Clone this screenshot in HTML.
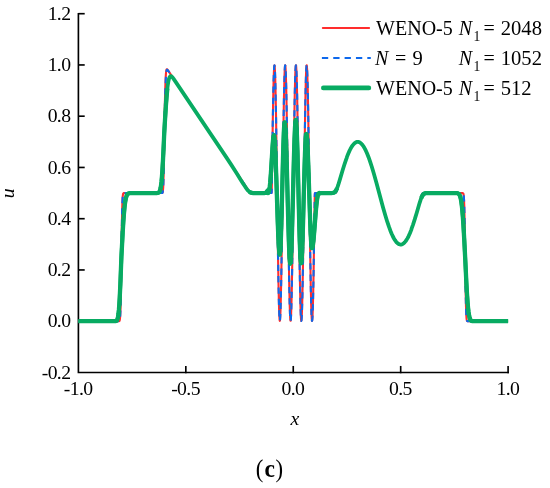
<!DOCTYPE html>
<html><head><meta charset="utf-8"><title>c</title>
<style>
html,body{margin:0;padding:0;background:#fff;}
svg{display:block;}
text{font-family:"Liberation Serif",serif;fill:#000;}
</style></head><body>
<svg width="550" height="488" viewBox="0 0 550 488">
<rect width="550" height="488" fill="#fff"/>
<g stroke="#000" stroke-width="1.65" fill="none" stroke-linecap="butt">
<path d="M78.4,12.875 V372.45 H508.925"/>
<path d="M78.4,13.70 H84.7"/>
<path d="M78.4,64.95 H84.7"/>
<path d="M78.4,116.20 H84.7"/>
<path d="M78.4,167.45 H84.7"/>
<path d="M78.4,218.70 H84.7"/>
<path d="M78.4,269.95 H84.7"/>
<path d="M78.4,321.20 H84.7"/>
<path d="M185.83,373.275 V365.95"/>
<path d="M293.25,373.275 V365.95"/>
<path d="M400.68,373.275 V365.95"/>
<path d="M508.10,373.275 V365.95"/>
</g>
<path d="M78.40,321.20 L84.69,321.20 L90.99,321.20 L97.28,321.20 L103.58,321.20 L109.87,321.20 L116.17,321.20 L118.89,321.18 L119.21,321.10 L119.42,320.94 L119.63,320.54 L119.84,319.67 L120.05,317.95 L120.26,314.84 L120.47,309.73 L120.78,297.12 L121.20,271.04 L121.83,226.53 L122.15,210.51 L122.36,203.36 L122.57,198.69 L122.78,195.90 L122.99,194.39 L123.20,193.63 L123.41,193.29 L123.62,193.15 L124.03,193.08 L130.33,193.07 L136.62,193.07 L142.92,193.07 L149.21,193.07 L155.51,193.07 L161.80,193.06 L162.12,193.01 L162.33,192.88 L162.54,192.57 L162.75,191.88 L162.96,190.47 L163.17,187.85 L163.37,183.41 L163.69,172.13 L164.00,154.62 L164.42,126.27 L164.95,100.33 L165.26,88.25 L165.58,79.56 L165.89,74.04 L166.10,71.79 L166.31,70.40 L166.52,69.64 L166.63,69.42 L166.73,69.30 L166.84,69.24 L167.05,69.27 L167.36,69.55 L168.20,70.71 L174.50,80.09 L180.79,89.47 L187.08,98.86 L193.38,108.24 L199.67,117.63 L205.97,127.01 L212.26,136.39 L218.56,145.78 L224.85,155.16 L231.14,164.55 L237.44,173.93 L243.73,183.32 L249.29,191.57 L249.92,192.35 L250.34,192.71 L250.76,192.93 L251.29,193.04 L253.39,193.07 L259.68,193.07 L265.97,193.07 L271.43,193.06 L271.53,192.93 L271.64,192.25 L271.74,189.94 L271.95,178.68 L272.79,120.80 L273.32,92.36 L273.63,79.68 L273.95,70.82 L274.16,67.20 L274.26,66.10 L274.37,65.48 L274.47,65.32 L274.58,65.67 L274.68,66.48 L274.89,69.54 L275.21,77.58 L275.52,89.54 L276.05,116.97 L276.78,166.62 L277.93,250.51 L278.46,282.30 L278.88,301.84 L279.19,312.27 L279.40,317.00 L279.61,319.87 L279.72,320.59 L279.82,320.83 L279.93,320.59 L280.03,319.87 L280.24,317.00 L280.56,309.22 L280.87,297.53 L281.29,276.52 L281.92,236.11 L283.39,130.11 L283.91,99.48 L284.33,81.16 L284.65,71.77 L284.86,67.78 L284.96,66.48 L285.07,65.67 L285.17,65.32 L285.28,65.48 L285.38,66.10 L285.59,68.78 L285.91,76.28 L286.22,87.73 L286.64,108.45 L287.27,148.56 L288.74,254.68 L289.26,285.60 L289.68,304.24 L290.00,313.88 L290.21,318.06 L290.31,319.44 L290.42,320.36 L290.52,320.79 L290.63,320.75 L290.73,320.21 L290.84,319.21 L291.05,315.77 L291.36,307.19 L291.78,289.81 L292.31,260.10 L293.25,193.08 L294.19,126.05 L294.72,96.34 L295.14,78.96 L295.45,70.38 L295.66,66.94 L295.77,65.94 L295.87,65.40 L295.98,65.36 L296.08,65.79 L296.19,66.71 L296.40,69.95 L296.71,78.27 L297.13,95.32 L297.66,124.73 L298.60,191.51 L299.54,258.75 L300.07,288.78 L300.49,306.47 L300.80,315.33 L301.01,318.95 L301.12,320.05 L301.22,320.67 L301.33,320.83 L301.43,320.48 L301.54,319.67 L301.75,316.61 L302.06,308.57 L302.38,296.61 L302.90,269.18 L303.64,219.53 L304.79,135.64 L305.31,103.85 L305.73,84.31 L306.05,73.88 L306.26,69.15 L306.47,66.28 L306.57,65.56 L306.68,65.32 L306.78,65.56 L306.89,66.28 L307.10,69.15 L307.41,76.93 L307.73,88.62 L308.15,109.63 L308.78,150.04 L310.24,256.04 L310.77,286.67 L311.19,304.99 L311.50,314.38 L311.71,318.37 L311.82,319.67 L311.92,320.48 L312.03,320.83 L312.13,320.67 L312.24,320.05 L312.45,317.37 L312.76,309.87 L313.08,298.42 L313.50,277.70 L314.13,237.59 L314.65,200.82 L314.76,196.21 L314.86,193.90 L314.97,193.22 L315.07,193.09 L321.37,193.07 L327.66,193.07 L333.95,193.07 L335.00,193.04 L335.42,192.92 L335.74,192.71 L336.05,192.33 L336.37,191.75 L336.79,190.66 L337.63,187.80 L340.88,175.98 L343.08,168.46 L344.97,162.52 L346.54,158.01 L348.01,154.21 L349.27,151.32 L350.42,148.97 L351.58,146.94 L352.63,145.38 L353.57,144.21 L354.41,143.37 L355.25,142.71 L355.98,142.29 L356.72,142.02 L357.45,141.90 L358.19,141.92 L358.92,142.09 L359.66,142.41 L360.50,142.95 L361.33,143.68 L362.28,144.73 L363.22,146.00 L364.27,147.68 L365.43,149.83 L366.69,152.53 L368.05,155.84 L369.52,159.82 L371.20,164.83 L373.19,171.33 L375.60,179.80 L381.90,203.14 L384.52,212.52 L386.62,219.52 L388.40,225.00 L389.97,229.38 L391.34,232.79 L392.60,235.59 L393.75,237.84 L394.80,239.61 L395.85,241.11 L396.79,242.21 L397.63,243.00 L398.47,243.60 L399.21,243.97 L399.94,244.19 L400.68,244.26 L401.41,244.19 L402.14,243.97 L402.88,243.60 L403.72,243.00 L404.56,242.21 L405.50,241.11 L406.55,239.61 L407.60,237.84 L408.75,235.59 L410.01,232.79 L411.38,229.38 L412.95,225.00 L414.73,219.52 L416.83,212.52 L419.56,202.75 L421.34,196.28 L421.87,194.74 L422.18,194.06 L422.50,193.59 L422.81,193.31 L423.13,193.17 L423.75,193.08 L430.05,193.07 L436.34,193.07 L442.64,193.07 L448.93,193.07 L455.23,193.07 L461.52,193.07 L462.68,193.10 L462.99,193.18 L463.20,193.36 L463.41,193.80 L463.62,194.73 L463.83,196.57 L464.04,199.85 L464.25,205.20 L464.56,218.22 L464.98,244.75 L465.61,289.01 L465.93,304.59 L466.14,311.47 L466.35,315.94 L466.56,318.57 L466.77,319.99 L466.98,320.69 L467.19,321.00 L467.40,321.13 L467.82,321.19 L474.11,321.20 L480.40,321.20 L486.70,321.20 L492.99,321.20 L499.29,321.20 L505.58,321.20 L508.10,321.20" fill="none" stroke="#ff2d2d" stroke-width="2.1" stroke-linejoin="round"/>
<path d="M78.40,321.20 L84.69,321.20 L90.99,321.20 L97.28,321.20 L103.58,321.20 L109.87,321.20 L116.17,321.20 L118.89,321.18 L119.21,321.10 L119.42,320.94 L119.63,320.54 L119.84,319.67 L120.05,317.95 L120.26,314.84 L120.47,309.73 L120.78,297.12 L121.20,271.04 L121.83,226.53 L122.15,210.51 L122.36,203.36 L122.57,198.69 L122.78,195.90 L122.99,194.39 L123.20,193.63 L123.41,193.29 L123.62,193.15 L124.03,193.08 L130.33,193.07 L136.62,193.07 L142.92,193.07 L149.21,193.07 L155.51,193.07 L161.80,193.06 L162.12,193.01 L162.33,192.88 L162.54,192.57 L162.75,191.88 L162.96,190.47 L163.17,187.85 L163.37,183.41 L163.69,172.13 L164.00,154.62 L164.42,126.75 L165.05,99.54 L165.47,86.03 L165.79,78.98 L166.10,74.34 L166.31,72.36 L166.52,71.05 L166.73,70.28 L166.94,69.88 L167.05,69.78 L167.15,69.75 L167.36,69.79 L167.68,70.05 L168.41,71.03 L174.70,80.40 L181.00,89.79 L187.29,99.17 L193.59,108.56 L199.88,117.94 L206.18,127.32 L212.47,136.71 L218.77,146.09 L225.06,155.48 L231.35,164.86 L237.65,174.24 L243.94,183.63 L249.29,191.57 L249.92,192.35 L250.34,192.71 L250.76,192.93 L251.29,193.04 L253.39,193.07 L259.68,193.07 L265.97,193.07 L271.43,193.06 L271.53,192.93 L271.64,192.25 L271.74,189.94 L271.95,178.68 L272.79,120.80 L273.32,92.36 L273.63,79.68 L273.95,70.82 L274.16,67.20 L274.26,66.10 L274.37,65.48 L274.47,65.32 L274.58,65.67 L274.68,66.48 L274.89,69.54 L275.21,77.58 L275.52,89.54 L276.05,116.97 L276.78,166.62 L277.93,250.51 L278.46,282.30 L278.88,301.84 L279.19,312.27 L279.40,317.00 L279.61,319.87 L279.72,320.59 L279.82,320.83 L279.93,320.59 L280.03,319.87 L280.24,317.00 L280.56,309.22 L280.87,297.53 L281.29,276.52 L281.92,236.11 L283.39,130.11 L283.91,99.48 L284.33,81.16 L284.65,71.77 L284.86,67.78 L284.96,66.48 L285.07,65.67 L285.17,65.32 L285.28,65.48 L285.38,66.10 L285.59,68.78 L285.91,76.28 L286.22,87.73 L286.64,108.45 L287.27,148.56 L288.74,254.68 L289.26,285.60 L289.68,304.24 L290.00,313.88 L290.21,318.06 L290.31,319.44 L290.42,320.36 L290.52,320.79 L290.63,320.75 L290.73,320.21 L290.84,319.21 L291.05,315.77 L291.36,307.19 L291.78,289.81 L292.31,260.10 L293.25,193.08 L294.19,126.05 L294.72,96.34 L295.14,78.96 L295.45,70.38 L295.66,66.94 L295.77,65.94 L295.87,65.40 L295.98,65.36 L296.08,65.79 L296.19,66.71 L296.40,69.95 L296.71,78.27 L297.13,95.32 L297.66,124.73 L298.60,191.51 L299.54,258.75 L300.07,288.78 L300.49,306.47 L300.80,315.33 L301.01,318.95 L301.12,320.05 L301.22,320.67 L301.33,320.83 L301.43,320.48 L301.54,319.67 L301.75,316.61 L302.06,308.57 L302.38,296.61 L302.90,269.18 L303.64,219.53 L304.79,135.64 L305.31,103.85 L305.73,84.31 L306.05,73.88 L306.26,69.15 L306.47,66.28 L306.57,65.56 L306.68,65.32 L306.78,65.56 L306.89,66.28 L307.10,69.15 L307.41,76.93 L307.73,88.62 L308.15,109.63 L308.78,150.04 L310.24,256.04 L310.77,286.67 L311.19,304.99 L311.50,314.38 L311.71,318.37 L311.82,319.67 L311.92,320.48 L312.03,320.83 L312.13,320.67 L312.24,320.05 L312.45,317.37 L312.76,309.87 L313.08,298.42 L313.50,277.70 L314.13,237.59 L314.65,200.82 L314.76,196.21 L314.86,193.90 L314.97,193.22 L315.07,193.09 L321.37,193.07 L327.66,193.07 L333.95,193.07 L335.00,193.04 L335.42,192.92 L335.74,192.71 L336.05,192.33 L336.37,191.75 L336.79,190.66 L337.63,187.80 L340.88,175.98 L343.08,168.46 L344.97,162.52 L346.54,158.01 L348.01,154.21 L349.27,151.32 L350.42,148.97 L351.58,146.94 L352.63,145.38 L353.57,144.21 L354.41,143.37 L355.25,142.71 L355.98,142.29 L356.72,142.02 L357.45,141.90 L358.19,141.92 L358.92,142.09 L359.66,142.41 L360.50,142.95 L361.33,143.68 L362.28,144.73 L363.22,146.00 L364.27,147.68 L365.43,149.83 L366.69,152.53 L368.05,155.84 L369.52,159.82 L371.20,164.83 L373.19,171.33 L375.60,179.80 L381.90,203.14 L384.52,212.52 L386.62,219.52 L388.40,225.00 L389.97,229.38 L391.34,232.79 L392.60,235.59 L393.75,237.84 L394.80,239.61 L395.85,241.11 L396.79,242.21 L397.63,243.00 L398.47,243.60 L399.21,243.97 L399.94,244.19 L400.68,244.26 L401.41,244.19 L402.14,243.97 L402.88,243.60 L403.72,243.00 L404.56,242.21 L405.50,241.11 L406.55,239.61 L407.60,237.84 L408.75,235.59 L410.01,232.79 L411.38,229.38 L412.95,225.00 L414.73,219.52 L416.83,212.52 L419.56,202.75 L421.34,196.28 L421.87,194.74 L422.18,194.06 L422.50,193.59 L422.81,193.31 L423.13,193.17 L423.75,193.08 L430.05,193.07 L436.34,193.07 L442.64,193.07 L448.93,193.07 L455.23,193.07 L461.52,193.07 L462.68,193.10 L462.99,193.18 L463.20,193.36 L463.41,193.80 L463.62,194.73 L463.83,196.57 L464.04,199.85 L464.25,205.20 L464.56,218.22 L464.98,244.75 L465.61,289.01 L465.93,304.59 L466.14,311.47 L466.35,315.94 L466.56,318.57 L466.77,319.99 L466.98,320.69 L467.19,321.00 L467.40,321.13 L467.82,321.19 L474.11,321.20 L480.40,321.20 L486.70,321.20 L492.99,321.20 L499.29,321.20 L505.58,321.20 L508.10,321.20" fill="none" stroke="#0d68ec" stroke-width="2.1" stroke-dasharray="6.3 5.05" stroke-linejoin="round"/>
<path d="M78.40,321.20 L90.99,321.20 L103.58,321.20 L114.70,321.18 L115.54,321.10 L115.96,320.99 L116.38,320.77 L116.59,320.60 L116.80,320.37 L117.01,320.07 L117.22,319.67 L117.43,319.16 L117.64,318.51 L117.85,317.68 L118.05,316.65 L118.47,313.87 L118.89,309.89 L119.31,304.49 L119.73,297.53 L120.36,284.19 L121.41,256.73 L122.67,232.78 L123.30,222.48 L123.93,213.89 L124.56,207.12 L124.98,203.59 L125.40,200.77 L125.82,198.58 L126.24,196.93 L126.66,195.71 L127.08,194.83 L127.50,194.22 L127.92,193.80 L128.34,193.53 L128.97,193.29 L129.80,193.15 L131.69,193.08 L144.28,193.07 L156.66,193.05 L157.71,192.95 L158.34,192.75 L158.76,192.50 L159.18,192.07 L159.39,191.76 L159.60,191.38 L159.81,190.91 L160.23,189.63 L160.65,187.76 L161.07,185.15 L161.49,181.63 L161.91,177.06 L162.33,171.38 L162.96,160.73 L163.79,143.26 L164.21,133.70 L164.84,122.53 L165.89,105.98 L166.52,97.55 L167.15,90.58 L167.78,85.14 L168.20,82.35 L168.62,80.18 L169.04,78.55 L169.46,77.41 L169.67,77.00 L169.88,76.68 L170.09,76.44 L170.30,76.28 L170.51,76.19 L170.72,76.15 L170.93,76.17 L171.35,76.34 L171.77,76.64 L172.40,77.28 L173.45,78.62 L176.17,82.59 L188.76,101.36 L201.35,120.13 L213.94,138.90 L226.53,157.67 L231.14,164.61 L236.18,172.56 L242.68,182.91 L245.41,187.07 L247.09,189.41 L248.14,190.67 L248.98,191.50 L249.61,192.00 L250.24,192.37 L251.08,192.72 L251.92,192.91 L253.18,193.04 L257.16,193.07 L264.30,193.05 L265.13,192.98 L265.76,192.82 L266.18,192.60 L266.60,192.23 L266.81,191.96 L267.02,191.63 L267.23,191.21 L267.44,190.69 L267.65,192.00 L267.86,193.07 L268.07,193.01 L268.28,192.87 L268.49,192.60 L268.70,192.18 L268.91,191.56 L269.12,190.73 L269.33,189.67 L269.75,186.76 L270.17,182.75 L270.80,174.73 L271.64,161.28 L272.48,147.46 L272.90,141.73 L273.11,139.42 L273.32,137.56 L273.53,136.23 L273.74,135.46 L273.95,135.32 L274.16,135.88 L274.37,137.18 L274.58,139.19 L274.79,141.90 L275.21,149.24 L275.63,158.85 L276.26,176.43 L277.72,221.63 L278.35,237.62 L278.77,245.73 L278.98,248.85 L279.19,251.31 L279.40,253.07 L279.61,254.10 L279.82,254.39 L280.03,253.67 L280.24,251.77 L280.45,248.73 L280.66,244.59 L281.08,233.37 L281.71,210.78 L282.97,159.02 L283.39,144.36 L283.81,132.88 L284.02,128.59 L284.23,125.39 L284.44,123.32 L284.65,122.44 L284.86,122.68 L285.07,123.90 L285.28,126.07 L285.49,129.17 L285.91,137.95 L286.33,149.76 L286.96,171.69 L288.21,220.41 L288.84,241.19 L289.26,251.88 L289.47,256.04 L289.68,259.33 L289.89,261.71 L290.10,263.14 L290.31,263.59 L290.52,263.05 L290.73,261.48 L290.94,258.91 L291.15,255.38 L291.57,245.64 L291.99,232.82 L292.83,201.00 L293.88,159.20 L294.51,138.74 L294.93,128.74 L295.14,125.06 L295.35,122.34 L295.56,120.61 L295.77,119.91 L295.98,120.26 L296.19,121.72 L296.40,124.26 L296.61,127.85 L297.03,137.93 L297.45,151.33 L298.29,184.62 L299.33,227.60 L299.75,241.79 L300.17,252.87 L300.38,257.03 L300.59,260.16 L300.80,262.23 L301.01,263.21 L301.22,263.09 L301.43,261.92 L301.64,259.74 L301.85,256.58 L302.06,252.50 L302.48,241.80 L303.11,220.86 L304.37,172.89 L305.00,152.72 L305.42,142.78 L305.63,139.12 L305.84,136.41 L306.05,134.70 L306.26,134.02 L306.47,134.28 L306.68,135.29 L306.89,137.05 L307.10,139.53 L307.52,146.49 L307.94,155.82 L308.57,173.13 L310.04,217.83 L310.66,233.36 L311.08,241.01 L311.29,243.87 L311.50,246.03 L311.71,247.46 L311.92,248.14 L312.13,248.13 L312.34,247.74 L312.55,247.02 L312.76,245.97 L313.18,243.00 L313.60,239.03 L314.23,231.73 L315.70,212.93 L316.33,205.94 L316.96,200.36 L317.38,197.55 L317.80,195.47 L318.01,194.71 L318.22,194.10 L318.43,193.66 L318.64,193.35 L318.85,193.17 L319.06,193.09 L319.27,193.69 L319.69,193.42 L320.32,193.21 L321.16,193.11 L325.56,193.07 L331.44,193.05 L332.70,192.94 L333.53,192.74 L334.16,192.45 L334.79,191.99 L335.42,191.30 L336.05,190.35 L336.68,189.12 L337.31,187.61 L338.15,185.24 L339.41,181.17 L342.77,169.73 L344.65,163.76 L346.33,158.92 L346.75,157.79 L346.96,156.88 L348.22,153.70 L349.48,150.86 L350.53,148.77 L351.58,146.93 L352.63,145.37 L353.47,144.32 L354.31,143.45 L355.15,142.78 L355.77,142.39 L356.40,142.11 L357.03,141.94 L357.66,141.88 L358.29,141.93 L358.92,142.08 L359.55,142.35 L360.18,142.72 L361.02,143.38 L361.86,144.23 L362.70,145.26 L363.75,146.80 L364.80,148.61 L365.85,150.68 L367.10,153.50 L368.57,157.21 L370.04,161.33 L371.72,166.49 L373.82,173.48 L376.55,183.24 L383.05,207.42 L385.36,215.52 L387.25,221.69 L388.93,226.71 L390.39,230.70 L391.65,233.77 L392.91,236.50 L393.96,238.49 L395.01,240.22 L396.06,241.67 L396.90,242.62 L397.74,243.39 L398.58,243.97 L399.21,244.28 L399.84,244.48 L400.47,244.57 L401.09,244.55 L401.72,244.42 L402.35,244.19 L402.98,243.84 L403.82,243.22 L404.66,242.40 L405.50,241.40 L406.55,239.90 L407.60,238.12 L408.65,236.07 L409.91,233.28 L411.17,230.16 L411.38,229.60 L411.59,228.68 L413.05,224.57 L414.73,219.42 L416.83,212.45 L419.56,203.08 L420.61,199.84 L421.45,197.63 L422.08,196.28 L422.50,195.52 L423.13,194.64 L423.75,194.02 L424.38,193.61 L425.01,193.36 L425.85,193.18 L427.32,193.09 L439.91,193.07 L452.50,193.08 L456.28,193.11 L457.32,193.23 L457.95,193.41 L458.37,193.62 L458.79,193.95 L459.21,194.44 L459.63,195.15 L460.05,196.15 L460.47,197.53 L460.89,199.38 L461.31,201.81 L461.73,204.90 L462.15,208.74 L462.78,215.99 L463.41,225.06 L464.25,239.60 L465.30,260.36 L466.35,282.35 L466.98,293.55 L467.61,302.61 L468.03,307.39 L468.45,311.22 L468.86,314.18 L469.28,316.40 L469.70,318.01 L470.12,319.14 L470.54,319.91 L470.96,320.41 L471.38,320.74 L471.80,320.93 L472.43,321.09 L473.48,321.18 L486.07,321.20 L498.66,321.20 L508.10,321.20" fill="none" stroke="#08ab62" stroke-width="3.8" stroke-linejoin="round"/>
<path d="M78.40,321.20 L90.99,321.20 L103.58,321.20 L114.70,321.18 L115.54,321.10 L115.96,320.99 L116.38,320.77 L116.59,320.60 L116.80,320.37 L117.01,320.07 L117.22,319.67 L117.43,319.16 L117.64,318.51 L117.85,317.68 L118.05,316.65 L118.47,313.87 L118.89,309.89 L119.31,304.49 L119.73,297.53 L120.36,284.19 L121.41,256.73 L122.67,232.78 L123.30,222.48 L123.93,213.89 L124.56,207.12 L124.98,203.59 L125.40,200.77 L125.82,198.58 L126.24,196.93 L126.66,195.71 L127.08,194.83 L127.50,194.22 L127.92,193.80 L128.34,193.53 L128.97,193.29 L129.80,193.15 L131.69,193.08 L144.28,193.07 L156.66,193.05 L157.71,192.95 L158.34,192.75 L158.76,192.50 L159.18,192.07 L159.39,191.76 L159.60,191.38 L159.81,190.91 L160.23,189.63 L160.65,187.76 L161.07,185.15 L161.49,181.63 L161.91,177.06 L162.33,171.38 L162.96,160.73 L163.79,143.26 L164.21,133.70 L164.84,122.53 L165.89,105.98 L166.52,97.55 L167.15,90.58 L167.36,88.59" fill="none" stroke="#08ab62" stroke-width="4.3" stroke-linejoin="round"/>
<path d="M249.40,191.84 L250.03,192.26 L250.66,192.57 L251.50,192.83 L252.55,192.99 L254.43,193.07 L264.30,193.05 L265.13,192.98 L265.76,192.82 L266.18,192.60 L266.60,192.23 L266.81,191.96 L267.02,191.63 L267.23,191.21 L267.44,190.69 L267.65,192.00 L267.86,193.07 L268.07,193.01 L268.28,192.87 L268.49,192.60 L268.70,192.18 L268.91,191.56 L269.12,190.73 L269.33,189.67 L269.75,186.76 L270.17,182.75 L270.80,174.73 L271.64,161.28 L272.48,147.46 L272.90,141.73 L273.11,139.42 L273.32,137.56 L273.53,136.23 L273.74,135.46 L273.95,135.32 L274.16,135.88 L274.37,137.18 L274.58,139.19 L274.79,141.90 L275.21,149.24 L275.63,158.85 L276.26,176.43 L277.72,221.63 L278.35,237.62 L278.77,245.73 L278.98,248.85 L279.19,251.31 L279.40,253.07 L279.61,254.10 L279.82,254.39 L280.03,253.67 L280.24,251.77 L280.45,248.73 L280.66,244.59 L281.08,233.37 L281.71,210.78 L282.97,159.02 L283.39,144.36 L283.81,132.88 L284.02,128.59 L284.23,125.39 L284.44,123.32 L284.65,122.44 L284.86,122.68 L285.07,123.90 L285.28,126.07 L285.49,129.17 L285.91,137.95 L286.33,149.76 L286.96,171.69 L288.21,220.41 L288.84,241.19 L289.26,251.88 L289.47,256.04 L289.68,259.33 L289.89,261.71 L290.10,263.14 L290.31,263.59 L290.52,263.05 L290.73,261.48 L290.94,258.91 L291.15,255.38 L291.57,245.64 L291.99,232.82 L292.83,201.00 L293.88,159.20 L294.51,138.74 L294.93,128.74 L295.14,125.06 L295.35,122.34 L295.56,120.61 L295.77,119.91 L295.98,120.26 L296.19,121.72 L296.40,124.26 L296.61,127.85 L297.03,137.93 L297.45,151.33 L298.29,184.62 L299.33,227.60 L299.75,241.79 L300.17,252.87 L300.38,257.03 L300.59,260.16 L300.80,262.23 L301.01,263.21 L301.22,263.09 L301.43,261.92 L301.64,259.74 L301.85,256.58 L302.06,252.50 L302.48,241.80 L303.11,220.86 L304.37,172.89 L305.00,152.72 L305.42,142.78 L305.63,139.12 L305.84,136.41 L306.05,134.70 L306.26,134.02 L306.47,134.28 L306.68,135.29 L306.89,137.05 L307.10,139.53 L307.52,146.49 L307.94,155.82 L308.57,173.13 L310.04,217.83 L310.66,233.36 L311.08,241.01 L311.29,243.87 L311.50,246.03 L311.71,247.46 L311.92,248.14 L312.13,248.13 L312.34,247.74 L312.55,247.02 L312.76,245.97 L313.18,243.00 L313.60,239.03 L314.23,231.73 L315.70,212.93 L316.33,205.94 L316.96,200.36 L317.38,197.55 L317.80,195.47 L318.01,194.71 L318.22,194.10 L318.43,193.66 L318.64,193.35 L318.85,193.17 L319.06,193.09 L319.27,193.69 L319.69,193.42 L320.32,193.21 L321.16,193.11 L325.56,193.07 L331.44,193.05 L332.70,192.94 L333.53,192.74 L334.16,192.45 L334.79,191.99 L335.42,191.30 L336.05,190.35 L336.68,189.12 L337.10,188.14" fill="none" stroke="#08ab62" stroke-width="4.3" stroke-linejoin="round"/>
<path d="M421.24,198.14 L421.87,196.70 L422.50,195.52 L423.13,194.64 L423.75,194.02 L424.38,193.61 L425.01,193.36 L425.85,193.18 L427.32,193.09 L439.91,193.07 L452.50,193.08 L456.28,193.11 L457.32,193.23 L457.95,193.41 L458.37,193.62 L458.79,193.95 L459.21,194.44 L459.63,195.15 L460.05,196.15 L460.47,197.53 L460.89,199.38 L461.31,201.81 L461.73,204.90 L462.15,208.74 L462.78,215.99 L463.41,225.06 L464.25,239.60 L465.30,260.36 L466.35,282.35 L466.98,293.55 L467.61,302.61 L468.03,307.39 L468.45,311.22 L468.86,314.18 L469.28,316.40 L469.70,318.01 L470.12,319.14 L470.54,319.91 L470.96,320.41 L471.38,320.74 L471.80,320.93 L472.43,321.09 L473.48,321.18 L486.07,321.20 L498.66,321.20 L508.10,321.20" fill="none" stroke="#08ab62" stroke-width="4.3" stroke-linejoin="round"/>
<g font-size="19.7" letter-spacing="-0.6">
<text x="70.45" y="19.75" text-anchor="end">1.2</text>
<text x="70.45" y="71.00" text-anchor="end">1.0</text>
<text x="70.45" y="122.25" text-anchor="end">0.8</text>
<text x="70.45" y="173.50" text-anchor="end">0.6</text>
<text x="70.45" y="224.75" text-anchor="end">0.4</text>
<text x="70.45" y="276.00" text-anchor="end">0.2</text>
<text x="70.45" y="327.25" text-anchor="end">0.0</text>
<text x="70.45" y="378.50" text-anchor="end">-0.2</text>
<text x="78.10" y="395.0" text-anchor="middle">-1.0</text>
<text x="185.53" y="395.0" text-anchor="middle">-0.5</text>
<text x="292.95" y="395.0" text-anchor="middle">0.0</text>
<text x="400.38" y="395.0" text-anchor="middle">0.5</text>
<text x="507.80" y="395.0" text-anchor="middle">1.0</text>
</g>
<text x="294.9" y="425.3" font-size="19.8" font-style="italic" text-anchor="middle">x</text>
<text transform="translate(14.4,193.3) rotate(-90)" font-size="19.8" font-style="italic" text-anchor="middle">u</text>
<text transform="translate(259.6,476.65) scale(0.87,1)" font-size="26.2" text-anchor="middle" >(</text>
<text transform="translate(269.6,476.5) scale(0.93,1)" font-size="25.3" text-anchor="middle" font-weight="bold">c</text>
<text transform="translate(279.4,476.65) scale(0.87,1)" font-size="26.2" text-anchor="middle" >)</text>
<path d="M322.8,28 H369.1" stroke="#ff2d2d" stroke-width="2" stroke-linecap="round" fill="none"/>
<path d="M321.9,58 H370.8" stroke="#0d68ec" stroke-width="2" stroke-dasharray="6.3 5.05" fill="none"/>
<path d="M323.3,87.9 H368.9" stroke="#08ab62" stroke-width="4.6" stroke-linecap="round" fill="none"/>
<text y="34.8" font-size="20"><tspan x="376.1">WENO-5</tspan><tspan x="458.7" font-style="italic">N</tspan><tspan x="473.6" dy="5.9" font-size="13.6">1</tspan><tspan x="483.6" dy="-5.9">=</tspan><tspan x="500.75" font-size="20.6">2048</tspan></text>
<text y="64.8" font-size="20"><tspan x="374.9" font-style="italic">N</tspan><tspan x="394.9">=</tspan><tspan x="412.6" font-size="20.6">9</tspan><tspan x="458.7" font-style="italic">N</tspan><tspan x="473.6" dy="5.9" font-size="13.6">1</tspan><tspan x="483.6" dy="-5.9">=</tspan><tspan x="500.75" font-size="20.6">1052</tspan></text>
<text y="94.8" font-size="20"><tspan x="376.1">WENO-5</tspan><tspan x="458.7" font-style="italic">N</tspan><tspan x="473.6" dy="5.9" font-size="13.6">1</tspan><tspan x="483.6" dy="-5.9">=</tspan><tspan x="500.75" font-size="20.6">512</tspan></text>
</svg></body></html>
